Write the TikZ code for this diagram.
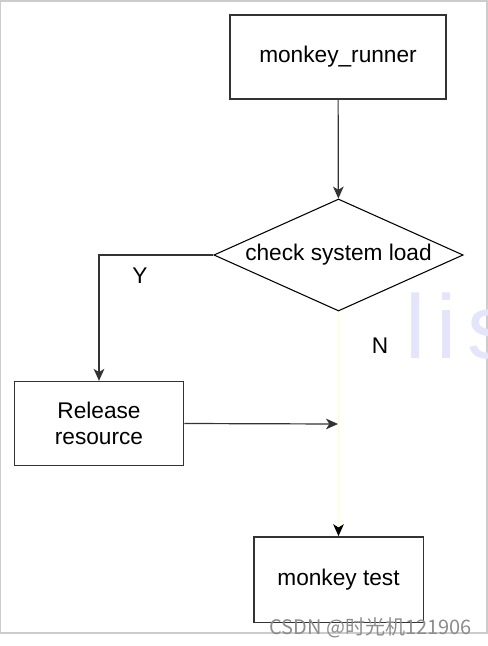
\documentclass[tikz,border=0pt]{standalone}
\usepackage{fontspec}
\setmainfont{Liberation Sans}
\newfontfamily\cjkfont{Noto Sans CJK SC}
\usetikzlibrary{shapes.geometric,arrows.meta}
\definecolor{boxline}{HTML}{333333}
\definecolor{framegray}{HTML}{CCCCCC}
\definecolor{paleyellow}{HTML}{FFFFC8}
\definecolor{marklavender}{HTML}{E4E4FA}

\begin{document}
\begin{tikzpicture}[x=0.75pt,y=-0.75pt,
    font=\fontsize{17}{20}\selectfont,
    >={Stealth[length=9pt,width=8pt,inset=2.5pt]},
    stepbox/.style={draw=boxline,line width=1pt,minimum width=162pt,minimum height=63pt,inner sep=0pt},
    testbox/.style={draw=boxline,line width=1pt,minimum width=127pt,minimum height=64pt,inner sep=0pt},
    choice/.style={draw=black,line width=0.8pt,shape=diamond,shape aspect=2.22,inner sep=0pt,
        minimum width=187pt,minimum height=84pt},
    link/.style={draw=boxline,line width=0.9pt,->}]
  % page size and the thin grey frame
  \useasboundingbox (0,0) rectangle (488,646);
  \draw[framegray,line width=1.2pt] (0.6,1) rectangle (487,633);
  % faint watermark at the right edge
  \begin{scope}
    \clip (0,0) rectangle (487,633);
    \node[anchor=base west,inner sep=0pt,text=marklavender,
      font=\addfontfeature{LetterSpace=12}\fontsize{68}{70}\selectfont] (mark) at (405,358) {lis};
  \end{scope}
  % the flow
  \node[stepbox] (runner) at (338,57) {monkey\_runner};
  \node[choice] (check) at (338.5,255) {check system load};
  \node[draw=boxline,line width=1pt,minimum width=127pt,minimum height=63pt,inner sep=0pt,align=center] (release) at (99,423.5) {Release\\resource};
  \node[testbox] (test) at (338.5,579.5) {monkey test};
  \coordinate (join) at (338,424);
  \draw[link] (runner) -- (check);
  \draw[link] (check.west) -| (release.north);
  \draw[link] (release.east) -- (join);
  \draw[paleyellow,line width=0.8pt,-{Stealth[length=9pt,width=8pt,inset=2.5pt,black]}] (check.south) -- (test.north);
  \node (yes) at (140,276) {Y};
  \node (no) at (380,346) {N};
  % site watermark
  \node[anchor=base east,inner sep=0pt,text=black!45,font=\cjkfont\fontsize{15}{18}\selectfont] (site) at (472,634) {CSDN @时光机121906};
\end{tikzpicture}
\end{document}
